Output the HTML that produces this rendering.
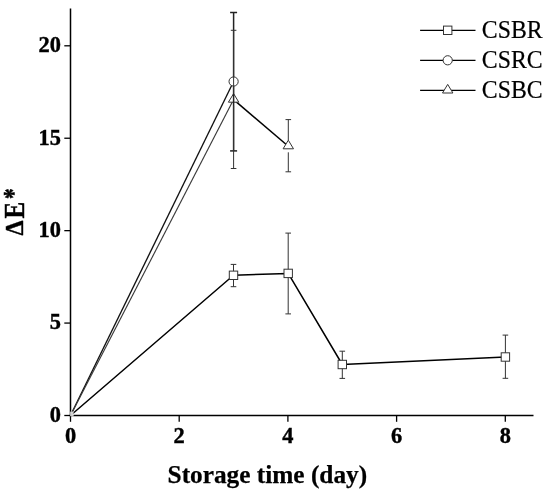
<!DOCTYPE html>
<html><head><meta charset="utf-8"><style>
html,body{margin:0;padding:0;background:#fff;}
svg{display:block;}
text{font-family:"Liberation Serif",serif;fill:#000;}
.tk{font-weight:bold;font-size:22.4px;stroke:#000;stroke-width:0.4px;}
.ti{font-weight:bold;font-size:25.3px;stroke:#000;stroke-width:0.25px;}
.yl{font-weight:bold;stroke:#000;stroke-width:0.4px;}
.lg{font-size:23.8px;stroke:#000;stroke-width:0.2px;}
</style></head><body>
<svg width="550" height="495" viewBox="0 0 550 495">
<rect x="0" y="0" width="550" height="495" fill="#fff"/>
<polyline points="70.50,415.50 233.50,275.30 288.20,273.40 342.30,364.50 505.40,357.00" stroke="#000" stroke-width="1.5" fill="none" stroke-linejoin="round"/>
<polyline points="70.50,415.50 233.60,81.50" stroke="#111" stroke-width="1.35" fill="none" stroke-linejoin="round"/>
<polyline points="70.50,415.50 233.60,99.60" stroke="#3a3a3a" stroke-width="1.15" fill="none" stroke-linejoin="round"/>
<polyline points="233.60,99.60 288.30,146.20" stroke="#000" stroke-width="1.5" fill="none" stroke-linejoin="round"/>
<rect x="229.30" y="271.10" width="8.40" height="8.40" stroke="#333" stroke-width="1.0" fill="#fff"/>
<rect x="284.00" y="269.20" width="8.40" height="8.40" stroke="#333" stroke-width="1.0" fill="#fff"/>
<rect x="338.10" y="360.30" width="8.40" height="8.40" stroke="#333" stroke-width="1.0" fill="#fff"/>
<rect x="501.20" y="352.80" width="8.40" height="8.40" stroke="#333" stroke-width="1.0" fill="#fff"/>
<circle cx="233.60" cy="81.50" r="4.6" stroke="#333" stroke-width="1.0" fill="#fff"/>
<polygon points="233.60,93.60 228.40,102.20 238.80,102.20" stroke="#333" stroke-width="1.0" fill="#fff"/>
<polygon points="288.30,140.20 283.10,148.80 293.50,148.80" stroke="#333" stroke-width="1.0" fill="#fff"/>
<line x1="233.50" y1="264.40" x2="233.50" y2="271.10" stroke="#333" stroke-width="1.0"/><line x1="233.50" y1="279.50" x2="233.50" y2="286.70" stroke="#333" stroke-width="1.0"/><line x1="230.70" y1="264.40" x2="236.30" y2="264.40" stroke="#333" stroke-width="1.0"/><line x1="230.70" y1="286.70" x2="236.30" y2="286.70" stroke="#333" stroke-width="1.0"/>
<line x1="288.20" y1="233.10" x2="288.20" y2="269.20" stroke="#333" stroke-width="1.0"/><line x1="288.20" y1="277.60" x2="288.20" y2="313.90" stroke="#333" stroke-width="1.0"/><line x1="285.40" y1="233.10" x2="291.00" y2="233.10" stroke="#333" stroke-width="1.0"/><line x1="285.40" y1="313.90" x2="291.00" y2="313.90" stroke="#333" stroke-width="1.0"/>
<line x1="342.30" y1="351.20" x2="342.30" y2="360.30" stroke="#333" stroke-width="1.0"/><line x1="342.30" y1="368.70" x2="342.30" y2="378.40" stroke="#333" stroke-width="1.0"/><line x1="339.50" y1="351.20" x2="345.10" y2="351.20" stroke="#333" stroke-width="1.0"/><line x1="339.50" y1="378.40" x2="345.10" y2="378.40" stroke="#333" stroke-width="1.0"/>
<line x1="505.40" y1="335.10" x2="505.40" y2="352.80" stroke="#333" stroke-width="1.0"/><line x1="505.40" y1="361.20" x2="505.40" y2="378.30" stroke="#333" stroke-width="1.0"/><line x1="502.60" y1="335.10" x2="508.20" y2="335.10" stroke="#333" stroke-width="1.0"/><line x1="502.60" y1="378.30" x2="508.20" y2="378.30" stroke="#333" stroke-width="1.0"/>
<line x1="233.60" y1="12.50" x2="233.60" y2="76.90" stroke="#222" stroke-width="1.5"/><line x1="233.60" y1="86.10" x2="233.60" y2="150.90" stroke="#222" stroke-width="1.5"/><line x1="230.10" y1="12.50" x2="237.10" y2="12.50" stroke="#222" stroke-width="1.5"/><line x1="230.10" y1="150.90" x2="237.10" y2="150.90" stroke="#222" stroke-width="1.5"/>
<line x1="233.60" y1="30.30" x2="233.60" y2="93.50" stroke="#333" stroke-width="1.0"/><line x1="233.60" y1="105.70" x2="233.60" y2="168.50" stroke="#333" stroke-width="1.0"/><line x1="230.80" y1="30.30" x2="236.40" y2="30.30" stroke="#333" stroke-width="1.0"/><line x1="230.80" y1="168.50" x2="236.40" y2="168.50" stroke="#333" stroke-width="1.0"/>
<line x1="288.30" y1="119.60" x2="288.30" y2="140.10" stroke="#333" stroke-width="1.0"/><line x1="288.30" y1="152.30" x2="288.30" y2="171.80" stroke="#333" stroke-width="1.0"/><line x1="285.50" y1="119.60" x2="291.10" y2="119.60" stroke="#333" stroke-width="1.0"/><line x1="285.50" y1="171.80" x2="291.10" y2="171.80" stroke="#333" stroke-width="1.0"/>
<line x1="70.50" y1="8.5" x2="70.50" y2="416.25" stroke="#000" stroke-width="1.5"/>
<line x1="69.75" y1="415.50" x2="533.5" y2="415.50" stroke="#000" stroke-width="1.5"/>
<line x1="64.3" y1="415.50" x2="70.50" y2="415.50" stroke="#000" stroke-width="1.3"/>
<text x="60.9" y="421.90" text-anchor="end" class="tk">0</text>
<line x1="64.3" y1="323.07" x2="70.50" y2="323.07" stroke="#000" stroke-width="1.3"/>
<text x="60.9" y="329.47" text-anchor="end" class="tk">5</text>
<line x1="64.3" y1="230.65" x2="70.50" y2="230.65" stroke="#000" stroke-width="1.3"/>
<text x="60.9" y="237.05" text-anchor="end" class="tk">10</text>
<line x1="64.3" y1="138.23" x2="70.50" y2="138.23" stroke="#000" stroke-width="1.3"/>
<text x="60.9" y="144.63" text-anchor="end" class="tk">15</text>
<line x1="64.3" y1="45.80" x2="70.50" y2="45.80" stroke="#000" stroke-width="1.3"/>
<text x="60.9" y="52.20" text-anchor="end" class="tk">20</text>
<line x1="70.50" y1="415.50" x2="70.50" y2="421.8" stroke="#000" stroke-width="1.3"/>
<text x="70.50" y="443.3" text-anchor="middle" class="tk">0</text>
<line x1="179.20" y1="415.50" x2="179.20" y2="421.8" stroke="#000" stroke-width="1.3"/>
<text x="179.20" y="443.3" text-anchor="middle" class="tk">2</text>
<line x1="287.90" y1="415.50" x2="287.90" y2="421.8" stroke="#000" stroke-width="1.3"/>
<text x="287.90" y="443.3" text-anchor="middle" class="tk">4</text>
<line x1="396.60" y1="415.50" x2="396.60" y2="421.8" stroke="#000" stroke-width="1.3"/>
<text x="396.60" y="443.3" text-anchor="middle" class="tk">6</text>
<line x1="505.30" y1="415.50" x2="505.30" y2="421.8" stroke="#000" stroke-width="1.3"/>
<text x="505.30" y="443.3" text-anchor="middle" class="tk">8</text>
<rect x="70.1" y="411.6" width="3.5" height="4.6" fill="#fff" fill-opacity="0.8"/>
<text x="167.6" y="483.1" class="ti">Storage time (day)</text>
<text transform="translate(23.3,235.5) rotate(-90) scale(1,1.086)" class="yl" style="font-size:24px">Δ</text>
<text transform="translate(23.7,218.5) rotate(-90) scale(1,1.215)" class="yl" style="font-size:25px">E</text>
<text transform="translate(22.25,198.9) rotate(-90) scale(1,1.29)" class="yl" style="font-size:21.2px">*</text>
<line x1="420.10" y1="30.30" x2="475.50" y2="30.30" stroke="#000" stroke-width="1.3"/>
<rect x="443.50" y="26.10" width="8.40" height="8.40" stroke="#333" stroke-width="1.0" fill="#fff"/>
<text transform="translate(481.8,38.1) scale(1,1.02)" class="lg">CSBR</text>
<line x1="420.10" y1="60.30" x2="475.50" y2="60.30" stroke="#000" stroke-width="1.3"/>
<circle cx="447.70" cy="60.30" r="4.6" stroke="#333" stroke-width="1.0" fill="#fff"/>
<text transform="translate(481.8,68.1) scale(1,1.02)" class="lg">CSRC</text>
<line x1="420.10" y1="90.40" x2="475.50" y2="90.40" stroke="#000" stroke-width="1.3"/>
<polygon points="447.70,84.40 442.50,93.00 452.90,93.00" stroke="#333" stroke-width="1.0" fill="#fff"/>
<text transform="translate(481.8,98.3) scale(1,1.02)" class="lg">CSBC</text>
</svg>
</body></html>
